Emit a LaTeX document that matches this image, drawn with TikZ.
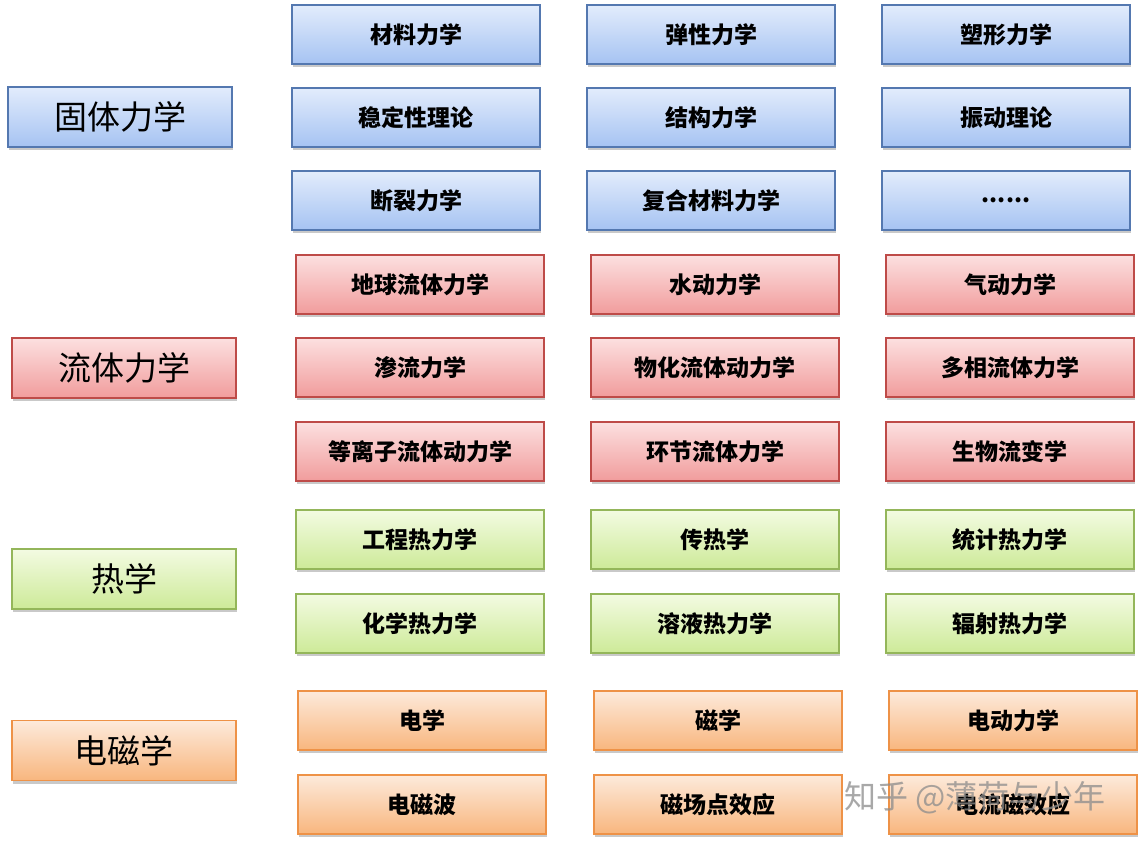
\documentclass[tikz,border=0pt]{standalone}
\usepackage{fontspec}
\setmainfont{Noto Sans CJK SC}
\newfontfamily\cjk{Noto Sans CJK SC}
\usetikzlibrary{shadows}
\definecolor{bTop}{HTML}{E2ECFC}\definecolor{bBot}{HTML}{A6C3F2}\definecolor{bLine}{HTML}{5478B0}
\definecolor{rTop}{HTML}{FCE0E0}\definecolor{rBot}{HTML}{F19C9C}\definecolor{rLine}{HTML}{BE4B48}
\definecolor{gTop}{HTML}{F3FBE2}\definecolor{gBot}{HTML}{CDEA98}\definecolor{gLine}{HTML}{94B65A}
\definecolor{oTop}{HTML}{FDEADB}\definecolor{oBot}{HTML}{F8B67E}\definecolor{oLine}{HTML}{EE9247}
\tikzset{
  cbox/.style={draw, line width=1.2pt, inner sep=0pt, align=center,
    drop shadow={shadow xshift=1pt, shadow yshift=-3pt, opacity=0.35, fill=black!60}},
  sub/.style={cbox, minimum width=248pt, minimum height=59pt, font=\cjk\bfseries\fontsize{23}{23}\selectfont},
  main/.style={cbox, minimum width=224pt, minimum height=60pt, font=\cjk\fontsize{33}{33}\selectfont},
  blue/.style={top color=bTop, bottom color=bBot, draw=bLine},
  red/.style={top color=rTop, bottom color=rBot, draw=rLine},
  green/.style={top color=gTop, bottom color=gBot, draw=gLine},
  orange/.style={top color=oTop, bottom color=oBot, draw=oLine},
}
\begin{document}
\begin{tikzpicture}[x=1pt,y=-1pt]
\useasboundingbox[fill=white] (0,0) rectangle (1145,845);
% Solid mechanics
\node[main,blue] (solid) at (120,117) {固体力学};
\node[sub,blue] (s11) at (416,34.5) {材料力学};
\node[sub,blue] (s12) at (711,34.5) {弹性力学};
\node[sub,blue] (s13) at (1006,34.5) {塑形力学};
\node[sub,blue] (s21) at (416,117.5) {稳定性理论};
\node[sub,blue] (s22) at (711,117.5) {结构力学};
\node[sub,blue] (s23) at (1006,117.5) {振动理论};
\node[sub,blue] (s31) at (416,200.5) {断裂力学};
\node[sub,blue] (s32) at (711,200.5) {复合材料力学};
\node[sub,blue] (s33) at (1006,200.5) {......};
% Fluid mechanics
\node[main,red] (fluid) at (124,368) {流体力学};
\node[sub,red] (f11) at (420,284.5) {地球流体力学};
\node[sub,red] (f12) at (715,284.5) {水动力学};
\node[sub,red] (f13) at (1010,284.5) {气动力学};
\node[sub,red] (f21) at (420,367.5) {渗流力学};
\node[sub,red] (f22) at (715,367.5) {物化流体动力学};
\node[sub,red] (f23) at (1010,367.5) {多相流体力学};
\node[sub,red] (f31) at (420,451.5) {等离子流体动力学};
\node[sub,red] (f32) at (715,451.5) {环节流体力学};
\node[sub,red] (f33) at (1010,451.5) {生物流变学};
% Thermo
\node[main,green] (heat) at (124,579) {热学};
\node[sub,green] (h11) at (420,539.5) {工程热力学};
\node[sub,green] (h12) at (715,539.5) {传热学};
\node[sub,green] (h13) at (1010,539.5) {统计热力学};
\node[sub,green] (h21) at (420,623.5) {化学热力学};
\node[sub,green] (h22) at (715,623.5) {溶液热力学};
\node[sub,green] (h23) at (1010,623.5) {辐射热力学};
% EM
\node[main,orange] (em) at (124,750.5) {电磁学};
\node[sub,orange] (e11) at (422,720.5) {电学};
\node[sub,orange] (e12) at (718,720.5) {磁学};
\node[sub,orange] (e13) at (1013,720.5) {电动力学};
\node[sub,orange] (e21) at (422,804.5) {电磁波};
\node[sub,orange] (e22) at (718,804.5) {磁场点效应};
\node[sub,orange] (e23) at (1013,804.5) {电流磁效应};
% watermark
\node[font=\cjk\fontsize{32}{32}\selectfont, text=black!45, opacity=0.75] (wm) at (975,798) {知乎 @薄荷与少年};
\end{tikzpicture}
\end{document}
